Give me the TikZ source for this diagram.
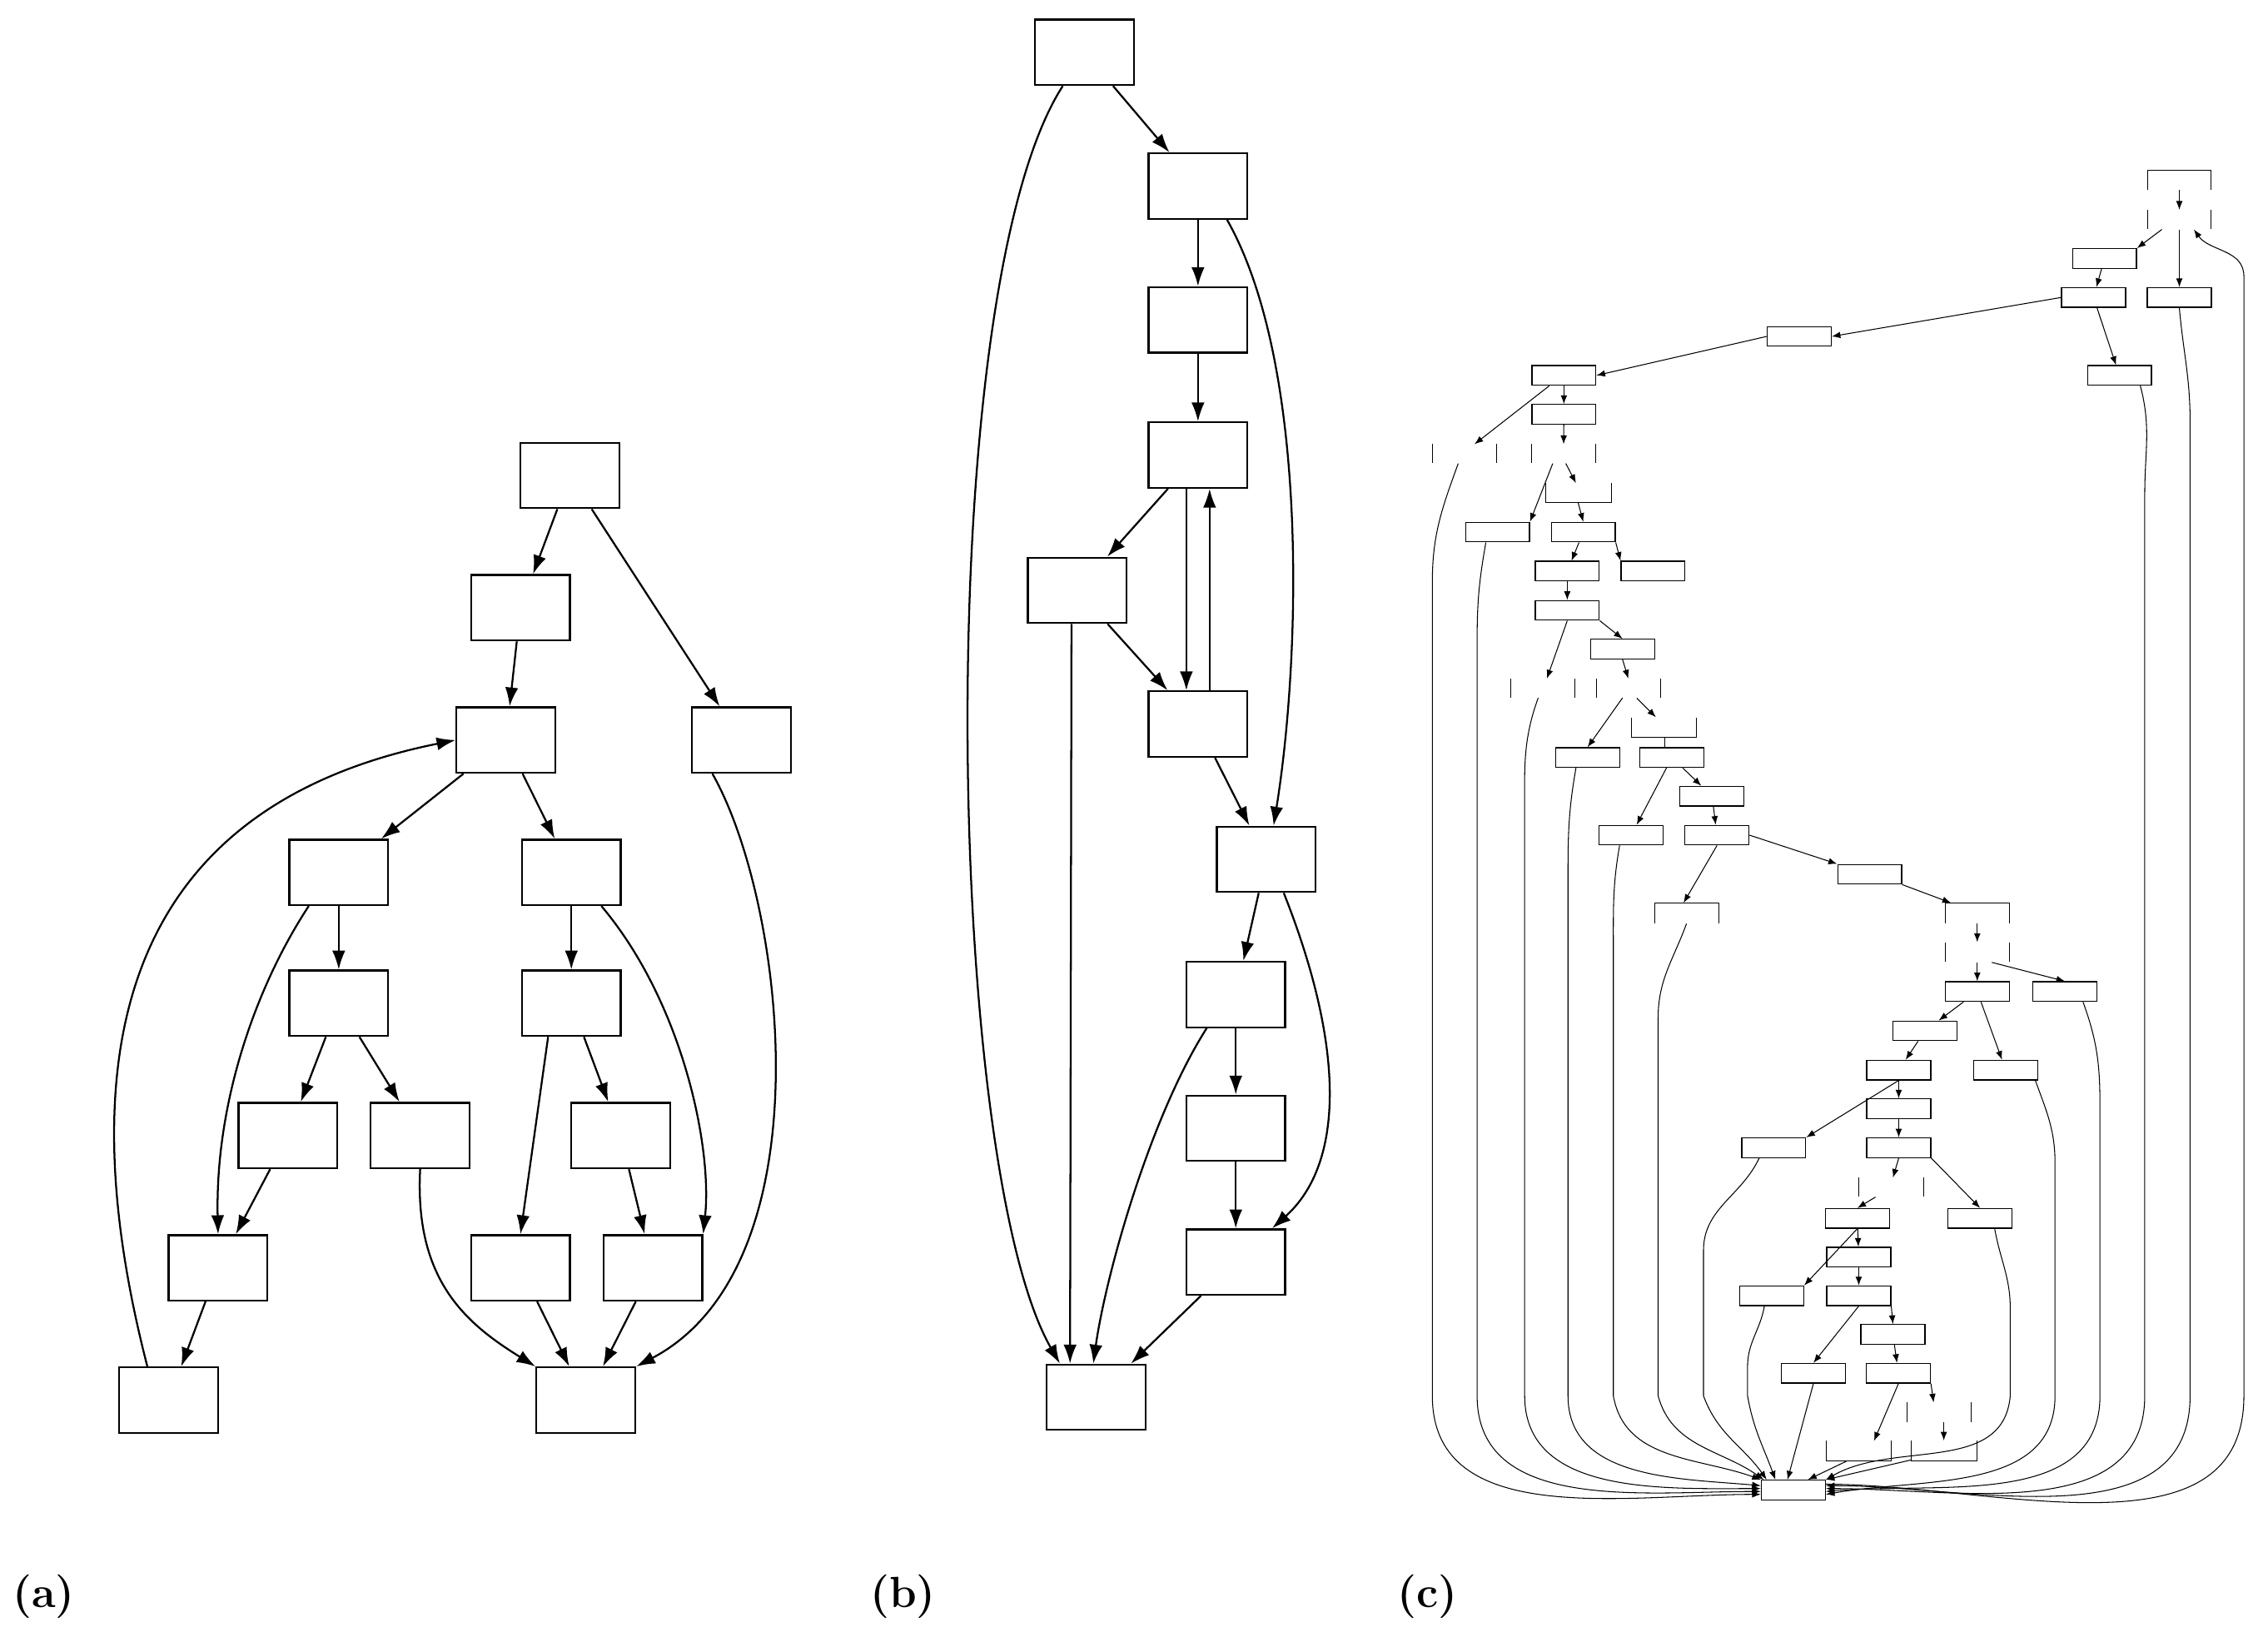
\documentclass[tikz,border=0pt]{standalone}
\usetikzlibrary{arrows.meta}
\begin{document}
\begin{tikzpicture}[x=1pt,y=-1pt,
  abox/.style={draw,line width=1.3pt,minimum width=68pt,minimum height=45pt,inner sep=0pt},
  ae/.style={line width=1.3pt,-{Latex[length=13pt,width=9pt]}},
  cbox/.style={draw,line width=0.7pt,minimum width=44pt,minimum height=13.5pt,inner sep=0pt},
  ce/.style={line width=0.6pt,-{Latex[length=6pt,width=4.5pt]}},
  cl/.style={line width=0.6pt},
  lab/.style={font=\fontsize{30}{36}\selectfont\bfseries}]
\useasboundingbox (0,0) rectangle (1560,1129);
% ---------- (a)
\node[abox] (A1) at (392,327) {};
\node[abox] (A2) at (358,418) {};
\node[abox] (A3) at (348,509) {};
\node[abox] (A4) at (510,509) {};
\node[abox] (A5) at (233,600) {};
\node[abox] (A6) at (393,600) {};
\node[abox] (A7) at (233,690) {};
\node[abox] (A8) at (393,690) {};
\node[abox] (A9) at (198,781) {};
\node[abox] (A10) at (289,781) {};
\node[abox] (A11) at (427,781) {};
\node[abox] (A12) at (150,872) {};
\node[abox] (A13) at (358,872) {};
\node[abox] (A14) at (449,872) {};
\node[abox] (A15) at (116,963) {};
\node[abox] (A16) at (403,963) {};
\draw[ae] (A1) -- (A2);
\draw[ae] (A1) -- (A4);
\draw[ae] (A2) -- (A3);
\draw[ae] (A3) -- (A5);
\draw[ae] (A3) -- (A6);
\draw[ae] (A5) -- (A7);
\draw[ae] (A7) -- (A9);
\draw[ae] (A7) -- (A10);
\draw[ae] (A9) -- (A12);
\draw[ae] (A12) -- (A15);
\draw[ae] (A6) -- (A8);
\draw[ae] (A8) -- (A11);
\draw[ae] (A11) -- (A14);
\draw[ae] (A13) -- (A16);
\draw[ae] (A14) -- (A16);
\draw[ae] (A8.south) ++(-16,0) coordinate (a8s) (a8s) -- (A13.north);
\draw[ae] (A5.south west) ++(14,0) coordinate (a5s) (a5s) .. controls (175,680) and (148,760) .. (A12.north);
\draw[ae] (A15.north west) ++(20,0) coordinate (a15n) (a15n) .. controls (55,760) and (60,560) .. (A3.west);
\draw[ae] (A6.south east) ++(-14,0) coordinate (a6s) (a6s) .. controls (470,690) and (490,790) .. (A14.north east);
\draw[ae] (A10.south) .. controls (285,880) and (320,910) .. (A16.north west);
\draw[ae] (A4.south) ++(-20,0) coordinate (a4s) (a4s) .. controls (540,620) and (570,870) .. (A16.north east);
% ---------- (b)
\node[abox] (B1) at (746,36) {};
\node[abox] (B2) at (824,128) {};
\node[abox] (B3) at (824,220) {};
\node[abox] (B4) at (824,313) {};
\node[abox] (B5) at (741,406) {};
\node[abox] (B6) at (824,498) {};
\node[abox] (B7) at (871,591) {};
\node[abox] (B8) at (850,684) {};
\node[abox] (B9) at (850,776) {};
\node[abox] (B10) at (850,868) {};
\node[abox] (B11) at (754,961) {};
\draw[ae] (B1) -- (B2);
\draw[ae] (B2) -- (B3);
\draw[ae] (B3) -- (B4);
\draw[ae] (B4) -- (B5);
\draw[ae] (B5) -- (B6);
\draw[ae] (B6) -- (B7);
\draw[ae] (B7) -- (B8);
\draw[ae] (B8) -- (B9);
\draw[ae] (B9) -- (B10);
\draw[ae] (B10) -- (B11);
\draw[ae] ([xshift=-8pt]B4.south) -- ([xshift=-8pt]B6.north);
\draw[ae] ([xshift=8pt]B6.north) -- ([xshift=8pt]B4.south);
\draw[ae] ([xshift=-4pt]B5.south) -- ([xshift=-18pt]B11.north);
\draw[ae] ([xshift=-15pt]B1.south) .. controls (640,200) and (650,800) .. ([xshift=-25pt]B11.north);
\draw[ae] ([xshift=20pt]B2.south) .. controls (900,250) and (895,450) .. ([xshift=5pt]B7.north);
\draw[ae] ([xshift=12pt]B7.south) .. controls (925,720) and (925,800) .. ([xshift=25pt]B10.north);
\draw[ae] ([xshift=-20pt]B8.south) .. controls (790,770) and (760,880) .. ([xshift=-2pt]B11.north);
% ---------- (c)
% broken top box C1
\draw[cl] (1477,130.5) -- (1477,117) -- (1521,117) -- (1521,130.5);
\draw[cl] (1477,144.3) -- (1477,157.3) (1521,144.3) -- (1521,157.3);
\coordinate (c1a) at (1499,130.8); \coordinate (c1b) at (1499,144.3);
\draw[ce] (c1a) -- (c1b);
\coordinate (c1l) at (1487,157.8); \coordinate (c1m) at (1499,157.8); \coordinate (c1r) at (1509,157.8);
\node[cbox] (C2) at (1447.5,177.8) {};
\node[cbox] (C3) at (1499,204.6) {};
\node[cbox] (C4) at (1440,204.6) {};
\node[cbox] (C5) at (1237.5,231.4) {};
\node[cbox] (C6) at (1457.8,258.2) {};
\node[cbox] (C7) at (1075.7,258.2) {};
\node[cbox] (C8) at (1075.7,285) {};
\node[cbox] (C11) at (1030,366) {};
\node[cbox] (C10) at (1089,366) {};
\node[cbox] (C12) at (1078,392.8) {};
\node[cbox] (C13) at (1137,392.8) {};
\node[cbox] (C14) at (1078,419.8) {};
\node[cbox] (C15) at (1116,446.4) {};
\node[cbox] (C16) at (1092,521) {};
\node[cbox] (C17) at (1150,521) {};
\node[cbox] (C18) at (1177.6,547.6) {};
\node[cbox] (C19) at (1122,574.4) {};
\node[cbox] (C20) at (1181,574.4) {};
\node[cbox] (C22) at (1286,601.3) {};
\node[cbox] (C24) at (1360,682) {};
\node[cbox] (C25) at (1420.4,682) {};
\node[cbox] (C26) at (1324,709) {};
\node[cbox] (C27) at (1379.6,736) {};
\node[cbox] (C28) at (1306,736) {};
\node[cbox] (C30) at (1306,762.6) {};
\node[cbox] (C29) at (1220,789.4) {};
\node[cbox] (C31) at (1306,789.4) {};
\node[cbox] (C32) at (1362,838) {};
\node[cbox] (C33) at (1277.5,838) {};
\node[cbox] (C34) at (1278.5,864.6) {};
\node[cbox] (C35) at (1218.6,891.2) {};
\node[cbox] (C36) at (1278.5,891.2) {};
\node[cbox] (C38) at (1302,917.8) {};
\node[cbox] (C37) at (1247.3,944.5) {};
\node[cbox] (C39) at (1305.8,944.5) {};
\node[cbox] (S) at (1233.5,1024.8) {};
% broken pieces
\draw[cl] (985.2,305.5) -- (985.2,318.5) (1029.3,305.5) -- (1029.3,318.5);
\draw[cl] (1053.5,305.5) -- (1053.5,318.5) (1097.5,305.5) -- (1097.5,318.5);
\draw[cl] (1063.4,332.3) -- (1063.4,345.8) -- (1108.2,345.8) -- (1108.2,332.3);
\draw[cl] (1039.2,466.7) -- (1039.2,479.7) (1083.2,466.7) -- (1083.2,479.7);
\draw[cl] (1097.9,466.7) -- (1097.9,479.7) (1142,466.7) -- (1142,479.7);
\draw[cl] (1122,493.5) -- (1122,507) -- (1167,507) -- (1167,493.5);
\draw[cl] (1138.2,635) -- (1138.2,621) -- (1182.4,621) -- (1182.4,635);
\draw[cl] (1338,635) -- (1338,621) -- (1382,621) -- (1382,635);
\draw[cl] (1338,648.5) -- (1338,661.4) (1382,648.5) -- (1382,661.4);
\draw[cl] (1278.6,810) -- (1278.6,823) (1323,810) -- (1323,823);
\draw[cl] (1311.9,964.6) -- (1311.9,978.1) (1356,964.6) -- (1356,978.1);
\draw[cl] (1256,991) -- (1256,1004.8) -- (1300.9,1004.8) -- (1300.9,991);
\draw[cl] (1314.8,991) -- (1314.8,1004.8) -- (1359.6,1004.8) -- (1359.6,991);
% edges
\draw[ce] (c1l) -- (C2.north east);
\draw[ce] (c1m) -- (C3.north);
\draw[ce] (C2) -- (C4);
\draw[ce] (C4.west) -- (C5.east);
\draw[ce] (C4) -- (C6);
\draw[ce] (C5.west) -- (C7.east);
\draw[ce] (C7) -- (C8);
\coordinate (k1) at (1014.2,305.5); \draw[ce] ([xshift=-10pt]C7.south) -- (k1);
\coordinate (k2) at (1075.5,305.5); \draw[ce] (C8) -- (k2);
\coordinate (k3) at (1068,318.8); \draw[ce] (k3) -- (C11.north east);
\coordinate (k4) at (1077,318.8); \coordinate (k5) at (1084,332.3); \draw[ce] (k4) -- (k5);
\coordinate (k6) at (1085.5,345.8); \draw[ce] (k6) -- (C10.north);
\draw[ce] (C10) -- (C12);
\draw[ce] (C10.south east) -- (C13.north west);
\draw[ce] (C12) -- (C14);
\draw[ce] (C14.south east) -- (C15.north);
\coordinate (k7) at (1064,466.7); \draw[ce] (C14.south) -- (k7);
\coordinate (k8) at (1120,466.7); \draw[ce] (C15.south) -- (k8);
\coordinate (k9) at (1116,480); \draw[ce] (k9) -- (C16.north);
\coordinate (k10) at (1125.8,480.2); \coordinate (k11) at (1139,493.3); \draw[ce] (k10) -- (k11);
\coordinate (k12) at (1145,507.2); \draw[cl] (k12) -- (C17.north -| k12);
\draw[ce] (C17) -- (C19);
\draw[ce] (C17) -- (C18);
\draw[ce] (C18) -- (C20);
\coordinate (k13) at (1158,621); \draw[ce] (C20.south) -- (k13);
\draw[ce] (C20.east) -- (C22.north west);
\coordinate (k14) at (1342,621); \draw[ce] (C22.south east) -- (k14);
\coordinate (k15) at (1360,635.3); \coordinate (k16) at (1360,648); \draw[ce] (k15) -- (k16);
\coordinate (k17) at (1360,661.9); \draw[ce] (k17) -- (C24.north);
\coordinate (k18) at (1370,661.9); \draw[ce] (k18) -- (C25.north);
\draw[ce] (C24) -- (C26);
\draw[ce] (C24) -- (C27);
\draw[ce] (C26) -- (C28);
\draw[ce] (C28.south) -- (C29.north east);
\draw[ce] (C28) -- (C30);
\draw[ce] (C30) -- (C31);
\coordinate (k19) at (1302,810); \draw[ce] (C31.south) -- (k19);
\draw[ce] (C31.south east) -- (C32.north);
\coordinate (k20) at (1290,823.3); \draw[ce] (k20) -- (C33.north);
\draw[ce] (C33) -- (C34);
\draw[ce] (C33.south) -- (C35.north east);
\draw[ce] (C34) -- (C36);
\draw[ce] (C36.south) -- (C37.north);
\draw[ce] (C36.south east) -- (C38.north);
\draw[ce] (C38) -- (C39);
\coordinate (k21) at (1289,991); \draw[ce] (C39.south) -- (k21);
\coordinate (k22) at (1330,964.6); \draw[ce] (C39.south east) -- (k22);
\coordinate (k23) at (1337,978.3); \coordinate (k24) at (1337,990.8); \draw[ce] (k23) -- (k24);
\draw[ce] (C37.south) -- ([xshift=-4pt]S.north);
\coordinate (k25) at (1270,1005); \draw[ce] (k25) -- ([xshift=10pt]S.north);
\coordinate (k26) at (1315,1004); \draw[ce] (k26) -- (S.north east);
% long curves, left
\coordinate (l1) at (1003,318.8);
\coordinate (l3) at (1058,480);
\coordinate (l6) at (1160,635.3);
\draw[ce] (l1) to[out=-110,in=90] (985.2,400) -- (985.2,960) to[out=-90,in=180] ([yshift=-3pt]S.west);
\draw[ce] ([xshift=-8pt]C11.south) to[out=-100,in=90] (1016,440) -- (1016,960) to[out=-90,in=180] ([yshift=-1pt]S.west);
\draw[ce] (l3) to[out=-110,in=90] (1048.7,560) -- (1048.7,960) to[out=-90,in=180] ([yshift=1pt]S.west);
\draw[ce] ([xshift=-8pt]C16.south) to[out=-100,in=90] (1078.5,600) -- (1078.5,960) to[out=-90,in=175] ([yshift=3pt]S.west);
\draw[ce] ([xshift=-8pt]C19.south) to[out=-100,in=90] (1109.7,650) -- (1109.7,960) to[out=-80,in=160] (S.north west);
\draw[ce] (l6) to[out=-110,in=90] (1140.5,700) -- (1140.5,960) to[out=-75,in=145] ([xshift=2pt]S.north west);
\draw[ce] ([xshift=-10pt]C29.south) to[out=-115,in=90] (1171.7,860) -- (1171.7,960) to[out=-70,in=125] ([xshift=4pt]S.north west);
\draw[ce] ([xshift=-5pt]C35.south) to[out=-100,in=90] (1202,940) -- (1202,960) to[out=-80,in=110] ([xshift=10pt]S.north west);
% long curves, right
\draw[ce] ([xshift=10pt]C32.south) to[out=-80,in=90] (1382.7,900) -- (1382.7,960) to[out=-95,in=30] (S.north east);
\draw[ce] ([xshift=-2pt]C27.south east) to[out=-70,in=90] (1413.5,800) -- (1413.5,960) to[out=-90,in=10] ([yshift=-3pt]S.east);
\draw[ce] ([xshift=-10pt]C25.south east) to[out=-70,in=90] (1444.4,760) -- (1444.4,960) to[out=-90,in=5] ([yshift=-1pt]S.east);
\draw[ce] ([xshift=-8pt]C6.south east) to[out=-75,in=90] (1475.2,340) -- (1475.2,960) to[out=-90,in=0] ([yshift=1pt]S.east);
\draw[ce] (C3.south) to[out=-85,in=90] (1506.4,290) -- (1506.4,960) to[out=-90,in=0] ([yshift=3pt]S.east);
\draw[ce] ([yshift=4pt]S.east) to[out=0,in=-90] (1543.4,960) -- (1543.4,190) to[out=90,in=-55] (c1r);
% labels
\node[lab] (la) at (30,1098) {(a)};
\node[lab] (lb) at (621,1098) {(b)};
\node[lab] (lc) at (982,1098) {(c)};
\end{tikzpicture}
\end{document}
